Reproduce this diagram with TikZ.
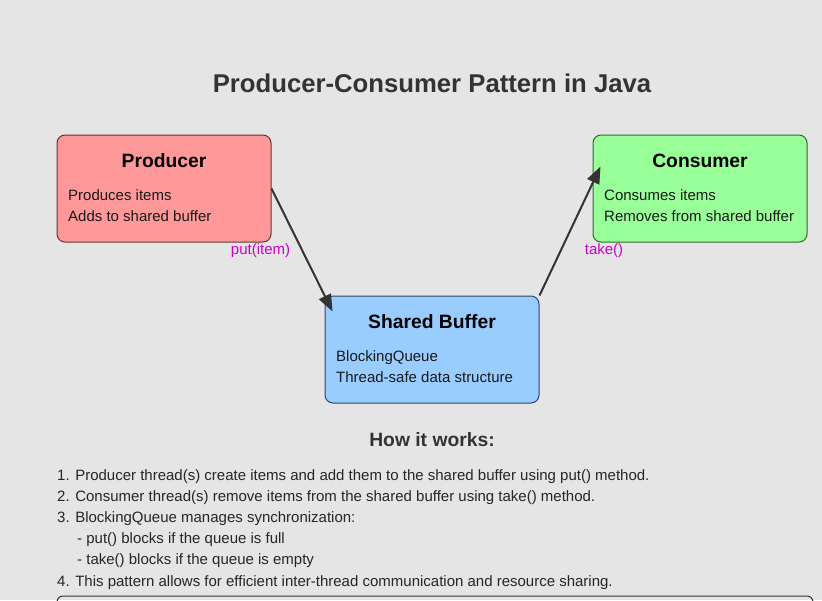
\documentclass[tikz,border=0pt]{standalone}
\usepackage{fontspec}
\setmainfont{Liberation Sans}
\usetikzlibrary{arrows.meta}
\definecolor{bg}{RGB}{229,229,229}
\definecolor{ink}{RGB}{51,51,51}
\definecolor{prodfill}{RGB}{255,153,153}
\definecolor{prodline}{RGB}{102,51,51}
\definecolor{consfill}{RGB}{153,255,153}
\definecolor{consline}{RGB}{51,102,51}
\definecolor{buffill}{RGB}{153,204,255}
\definecolor{bufline}{RGB}{51,68,102}
\definecolor{lbl}{RGB}{204,0,204}
\tikzset{
  box/.style={draw, line width=1pt, rounded corners=8pt, minimum width=214pt, minimum height=107pt, inner sep=0pt},
  boxtitle/.style={anchor=base, font=\fontsize{19.3}{23}\selectfont\bfseries, text=black, inner sep=0pt},
  boxtext/.style={anchor=base west, font=\fontsize{15}{18}\selectfont, text=black!90, inner sep=0pt},
  flow/.style={draw=ink, line width=2pt, -{Triangle[length=17pt,width=13pt]}},
  edgelabel/.style={anchor=base, font=\fontsize{15}{18}\selectfont, text=lbl, inner sep=0pt},
  listtext/.style={anchor=base west, font=\fontsize{15}{18}\selectfont, text=black!85, inner sep=0pt}
}
\begin{document}
\begin{tikzpicture}[x=1pt, y=-1pt]
\useasboundingbox (0,0) rectangle (822,600);
\fill[bg] (0,0) rectangle (822,600);
\begin{scope}
\clip (0,0) rectangle (822,600);
\node[anchor=base, font=\fontsize{25.7}{30}\selectfont\bfseries, text=ink, inner sep=0pt] (title) at (432,92) {Producer-Consumer Pattern in Java};

\node[box, fill=prodfill, draw=prodline] (producer) at (164,188.5) {};
\node[boxtitle] (ptitle) at (164,167) {Producer};
\node[boxtext] (pl1) at (68,200.5) {Produces items};
\node[boxtext] (pl2) at (68,221.5) {Adds to shared buffer};

\node[box, fill=consfill, draw=consline] (consumer) at (700,188.5) {};
\node[boxtitle] (ctitle) at (700,167) {Consumer};
\node[boxtext] (cl1) at (604,200.5) {Consumes items};
\node[boxtext] (cl2) at (604,221.5) {Removes from shared buffer};

\node[box, fill=buffill, draw=bufline] (buffer) at (432,349.5) {};
\node[boxtitle] (btitle) at (432,328) {Shared Buffer};
\node[boxtext] (bl1) at (336,361.5) {BlockingQueue};
\node[boxtext] (bl2) at (336,382.5) {Thread-safe data structure};

\draw[flow] (producer.east) -- ([shift={(8,16)}]buffer.north west);
\draw[flow] (buffer.north east) -- ([shift={(8,-22)}]consumer.west);
\node[edgelabel] (putlbl) at (260.5,254) {put(item)};
\node[edgelabel] (takelbl) at (604,254) {take()};

\node[anchor=base, font=\fontsize{19.3}{23}\selectfont\bfseries, text=ink, inner sep=0pt] (how) at (432,446) {How it works:};
\node[listtext] (s1) at (57,480.5) {1. Producer thread(s) create items and add them to the shared buffer using put() method.};
\node[listtext] (s2) at (57,501.5) {2. Consumer thread(s) remove items from the shared buffer using take() method.};
\node[listtext] (s3) at (57,522.5) {3. BlockingQueue manages synchronization:};
\node[listtext] (s3a) at (77,543.5) {- put() blocks if the queue is full};
\node[listtext] (s3b) at (77,564.5) {- take() blocks if the queue is empty};
\node[listtext] (s4) at (57,586) {4. This pattern allows for efficient inter-thread communication and resource sharing.};

\draw[ink, line width=1pt, rounded corners=6pt] (57,640) rectangle (813,596);
\end{scope}
\end{tikzpicture}
\end{document}
